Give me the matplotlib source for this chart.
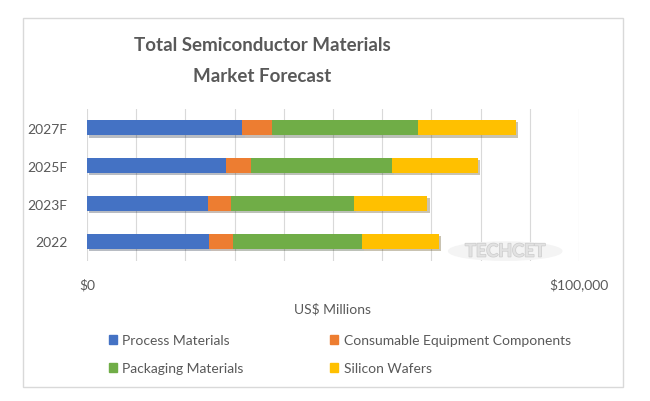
import matplotlib.pyplot as plt
from matplotlib.patches import Rectangle, Patch, Ellipse
import matplotlib.patheffects as pe

plt.rcParams['font.family'] = ['Lato', 'DejaVu Sans']

years = ['2022', '2023F', '2025F', '2027F']
process = [24700, 24500, 28200, 31600]
consumable = [5000, 4800, 5100, 5900]
packaging = [26100, 25000, 28600, 29800]
wafers = [15800, 14900, 17500, 19900]

series = [
    ('Process Materials', process, '#4472C4'),
    ('Consumable Equipment Components', consumable, '#ED7D31'),
    ('Packaging Materials', packaging, '#70AD47'),
    ('Silicon Wafers', wafers, '#FFC000'),
]

txt = '#595959'

fig = plt.figure(figsize=(6.5, 4.02), dpi=100)
fig.patch.set_facecolor('white')

# outer chart frame
fig.patches.append(Rectangle((23/650, 1-388/402), 600/650, 369/402, transform=fig.transFigure,
                             fill=False, edgecolor='#d9d9d9', lw=1))

ax = fig.add_axes([87/650, 1-262/402, 492/650, 152/402])

left = [0]*len(years)
shadow = [pe.SimplePatchShadow(offset=(1.5, -1.5), alpha=0.3), pe.Normal()]
for name, vals, col in series:
    b = ax.barh(years, vals, left=left, height=0.4, color=col, zorder=3)
    for r in b:
        r.set_path_effects(shadow)
    left = [l + v for l, v in zip(left, vals)]

ax.set_xlim(0, 100000)
ax.set_ylim(-0.52, 3.5)
ax.set_xticks(range(0, 100001, 10000), minor=True)
ax.set_xticks([0, 100000])
ax.set_xticklabels(['$0', '$100,000'])
ax.grid(True, axis='x', which='both', color='#d9d9d9', lw=0.8, zorder=0)
ax.tick_params(axis='both', which='both', length=0, colors=txt, labelsize=10)
ax.tick_params(axis='x', pad=12)
ax.tick_params(axis='y', pad=14)
for s in ax.spines.values():
    s.set_visible(False)
ax.set_xlabel('US$ Millions', color=txt, fontsize=10, labelpad=8)

fig.text(262/650, 1-61/402, 'Total Semiconductor Materials\nMarket Forecast', ha='center', va='center',
         fontsize=13.5, fontweight='bold', color=txt, linespacing=1.95)

# watermark
ax.add_patch(Ellipse((0.85, 0.065), 0.23, 0.12, transform=ax.transAxes, color='#f4f4f4', zorder=2))
ax.text(0.85, 0.065, 'TECHCET', transform=ax.transAxes, ha='center', va='center', fontsize=13,
        fontweight='bold', color='#e2e2e2', zorder=4,
        path_effects=[pe.withStroke(linewidth=1, foreground='#cccccc')])

# legend fills column by column, so order as col1 then col2
order = [0, 2, 1, 3]
handles = [Patch(color=series[i][2]) for i in order]
labels = [series[i][0] for i in order]
leg = fig.legend(handles=handles, labels=labels, ncol=2, loc='center left',
                 bbox_to_anchor=(96/650, 1-355/402), frameon=False, fontsize=10,
                 handlelength=0.6, handleheight=0.6, handletextpad=0.4, columnspacing=6.2,
                 labelspacing=1.15)
for t in leg.get_texts():
    t.set_color(txt)

fig.savefig('out.png', dpi=100)
